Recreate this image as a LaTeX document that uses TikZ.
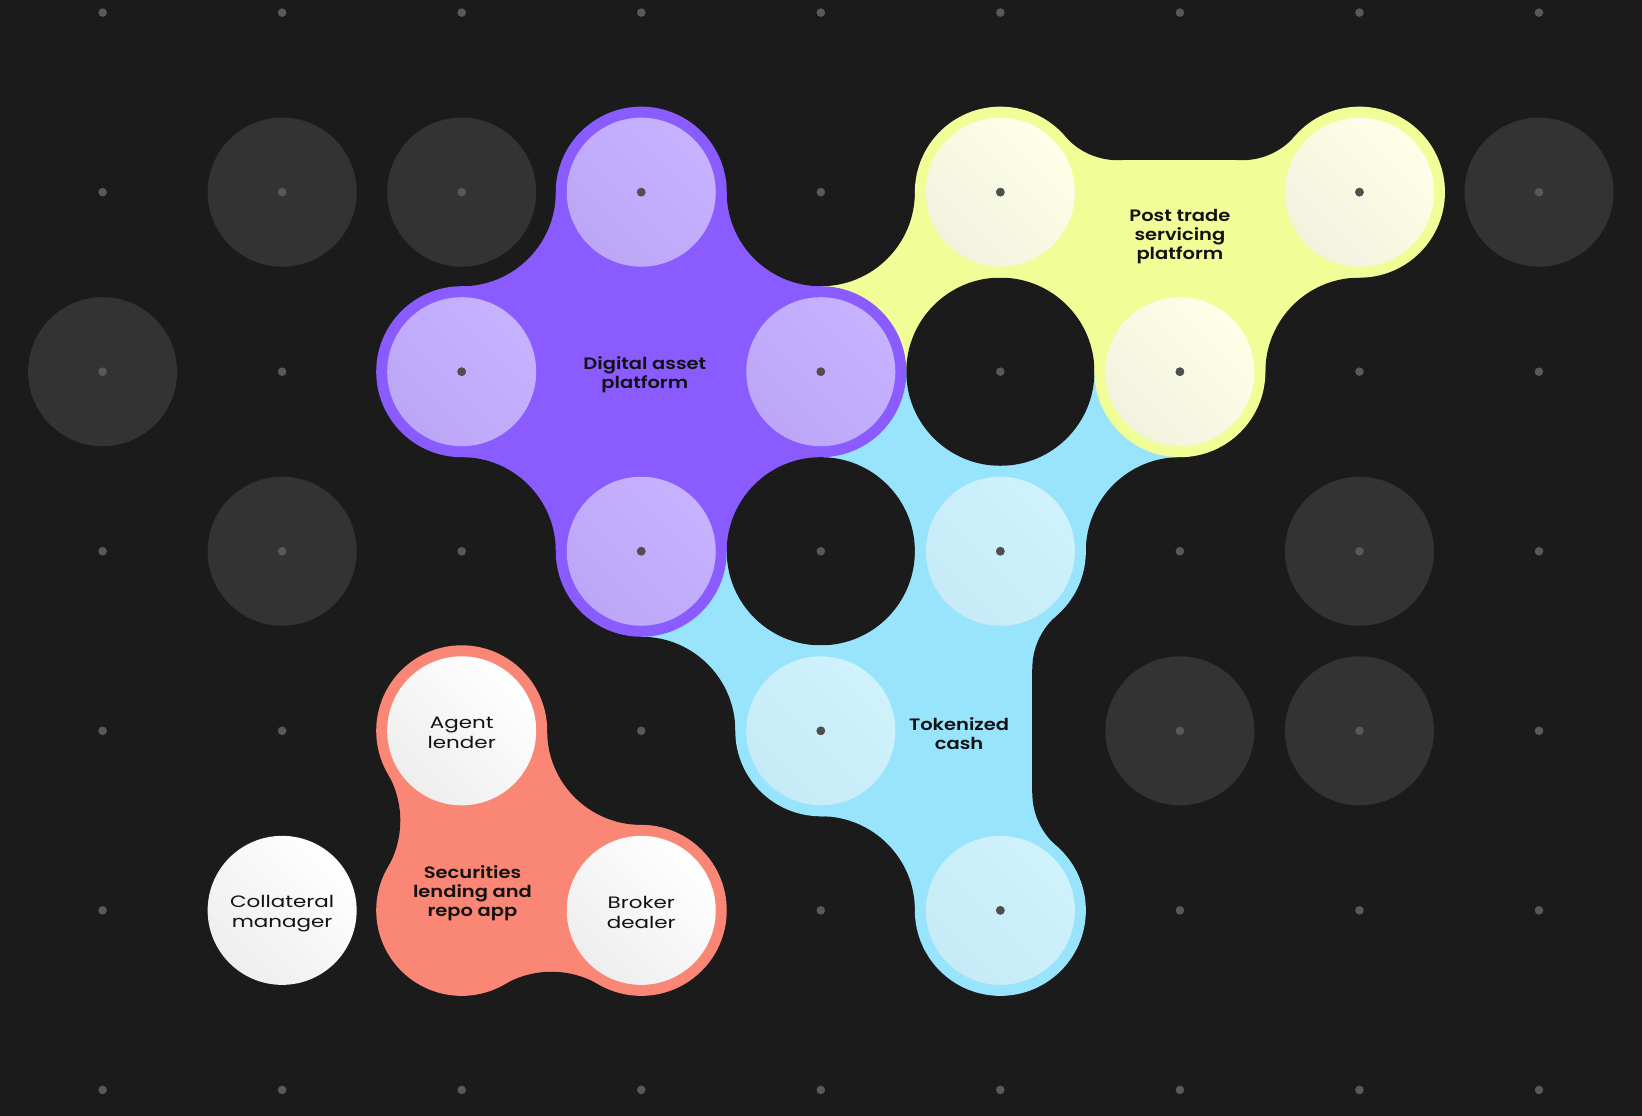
\documentclass[tikz,border=0pt]{standalone}
\usepackage{fontspec}
\newfontfamily\labfont{Poppins}[FakeStretch=1.18,BoldFont={Poppins SemiBold}]
\newfontfamily\nodefont{Poppins}[FakeStretch=1.3]
\definecolor{bgc}{HTML}{1B1B1B}
\definecolor{greyc}{HTML}{333333}
\definecolor{dotc}{HTML}{595959}
\definecolor{dotd}{HTML}{4F4F4F}
\definecolor{purO}{HTML}{8A5CFF}
\definecolor{purIa}{HTML}{C6B2FF}
\definecolor{purIb}{HTML}{BCA7F7}
\definecolor{yelO}{HTML}{F1FD97}
\definecolor{yelIa}{HTML}{FDFFE7}
\definecolor{yelIb}{HTML}{F2F3DF}
\definecolor{bluO}{HTML}{97E4FC}
\definecolor{bluIa}{HTML}{CFF2FD}
\definecolor{bluIb}{HTML}{C6EBF7}
\definecolor{salO}{HTML}{FA8775}
\definecolor{whIa}{HTML}{FFFFFF}
\definecolor{whIb}{HTML}{EEEEEE}
\definecolor{txtc}{HTML}{121212}
\expandafter\def\csname sk3-2\endcsname{x}
\expandafter\def\csname sk6-1\endcsname{x}
\expandafter\def\csname sk5-4\endcsname{x}
\expandafter\def\csname sk2-5\endcsname{x}
\expandafter\def\csname sk2-4\endcsname{x}
\expandafter\def\csname sk3-5\endcsname{x}
\expandafter\def\csname sk1-5\endcsname{x}
\begin{document}
\begin{tikzpicture}[x=179.55pt,y=-179.55pt,
  ringn/.style={circle,minimum size=171pt,inner sep=0pt,fill=#1},
  innern/.style={circle,minimum size=149pt,inner sep=0pt},
  purin/.style={innern,top color=purIa,bottom color=purIb,shading angle=-45},
  yelin/.style={innern,top color=yelIa,bottom color=yelIb,shading angle=-45},
  bluin/.style={innern,top color=bluIa,bottom color=bluIb,shading angle=-45},
  whin/.style={innern,top color=whIa,bottom color=whIb,shading angle=-45},
  wtxt/.style={text=txtc,align=center,inner sep=0pt,
    font=\nodefont\fontsize{16.5}{20}\selectfont},
  greyn/.style={circle,minimum size=149pt,inner sep=0pt,fill=greyc},
  dotn/.style={circle,minimum size=8.6pt,inner sep=0pt,fill=dotc},
  labn/.style={text=txtc,align=center,inner sep=0pt,
    font=\labfont\bfseries\fontsize{16.5}{19}\selectfont}]
\def\Hf{0.524}
\def\Rb{0.39}
\fill[bgc] (-0.57143,-0.07018) rectangle (8.5737,6.1453);
\useasboundingbox (-0.57143,-0.07018) rectangle (8.5737,6.1453);
% blob bodies
\fill[purO] (2,1) rectangle (4,3);
\fill[yelO] (4,1) -- (5,1) -- (5.65371,0.432) -- (6.34629,0.432) -- (7,1) -- (7,2) -- (4,2) -- cycle;
\fill[bluO] (4,2) -- (6,2) -- (6,3) -- (5,3) -- (5.568,3.65371) -- (5.568,4.34629) -- (5,5) -- (4,5) -- (4,4) -- (3,4) -- (3,3) -- (4,3) -- cycle;
\fill[salO] (2,4) -- (3,4) -- (3,5) -- (2.5,5.866) -- (2,5) -- (1.134,4.5) -- cycle;
% fillets and holes
\fill[bgc] (2,1) circle[radius=\Hf] (4,1) circle[radius=\Hf] (2,3) circle[radius=\Hf]
  (4,3) circle[radius=\Hf] (5,2) circle[radius=\Hf] (7,2) circle[radius=\Hf]
  (6,3) circle[radius=\Hf] (3,4) circle[radius=\Hf] (4,5) circle[radius=\Hf]
  (1.134,4.5) circle[radius=\Hf] (2.5,5.866) circle[radius=\Hf];
\fill[bgc] (5.65371,0.432) circle[radius=\Rb] (6.34629,0.432) circle[radius=\Rb]
  (5.568,3.65371) circle[radius=\Rb] (5.568,4.34629) circle[radius=\Rb];
\fill[bgc] (5.65371,0.432) rectangle (6.34629,0.822);
\fill[bgc] (5.178,3.65371) rectangle (5.568,4.34629);
% rings
\foreach \p/\q in {3/1,2/2,4/2,3/3}{\node[ringn=purO] (rp\p\q) at (\p,\q) {};}
\foreach \p/\q in {5/1,7/1,6/2}{\node[ringn=yelO] (ry\p\q) at (\p,\q) {};}
\foreach \p/\q in {5/3,4/4,5/5}{\node[ringn=bluO] (rb\p\q) at (\p,\q) {};}
\foreach \p/\q in {2/4,3/5,2/5}{\node[ringn=salO] (rs\p\q) at (\p,\q) {};}
% inner circles
\foreach \p/\q in {3/1,2/2,4/2,3/3}{\node[purin] (ip\p\q) at (\p,\q) {};}
\foreach \p/\q in {5/1,7/1,6/2}{\node[yelin] (iy\p\q) at (\p,\q) {};}
\foreach \p/\q in {5/3,4/4,5/5}{\node[bluin] (ib\p\q) at (\p,\q) {};}
\node[whin] (cagent) at (2,4) {};
\node[whin] (cbroker) at (3,5) {};
\node[whin] (ccollat) at (1,5) {};
% grey circles
\foreach \p/\q in {1/1,2/1,8/1,0/2,1/3,7/3,6/4,7/4}{\node[greyn] (g\p\q) at (\p,\q) {};}
% dots
\foreach \i in {0,...,8}{\foreach \j in {0,...,6}{%
  \ifcsname sk\i-\j\endcsname\else\node[dotn] (d\i-\j) at (\i,\j) {};\fi}}
\foreach \p/\q in {3/1,2/2,4/2,3/3,5/1,7/1,6/2,5/3,4/4,5/5}{\node[dotn,fill=dotd] (dd\p\q) at (\p,\q) {};}
% texts
\node[wtxt] (agent) at (2,4.012) {Agent\\lender};
\node[wtxt] (broker) at (3,5.012) {Broker\\dealer};
\node[wtxt] (collat) at (1,5.02) {Collateral\\manager};
\node[labn] (ldig) at (3.02,2.015) {Digital asset\\platform};
\node[labn] (lpost) at (6.0,1.245) {Post trade\\servicing\\platform};
\node[labn] (ltok) at (4.77,4.014) {Tokenized\\cash};
\node[labn] (lsec) at (2.06,4.905) {Securities\\lending and\\repo app};
\end{tikzpicture}
\end{document}
